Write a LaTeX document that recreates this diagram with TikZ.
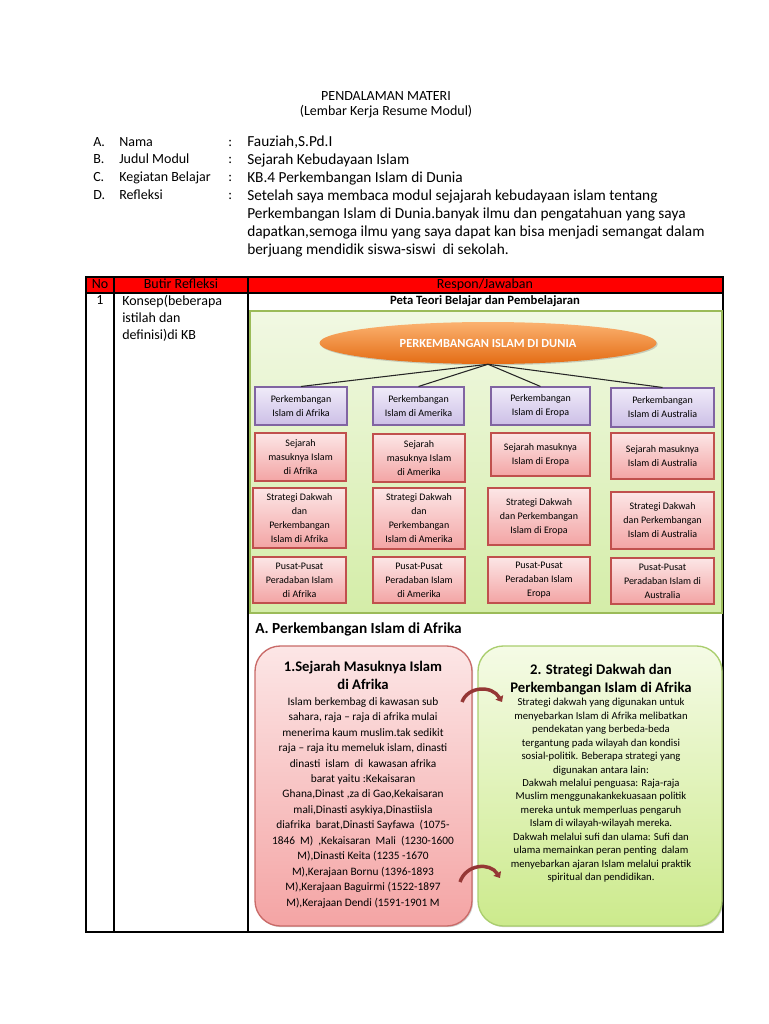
\documentclass[tikz,border=0pt]{standalone}
\usepackage{fontspec}
\setmainfont{Carlito}
\usetikzlibrary{shapes.geometric,shadows,arrows.meta}
\definecolor{hdrred}{RGB}{255,0,0}
\definecolor{pnlborder}{RGB}{155,187,89}
\definecolor{pnltop}{RGB}{241,248,227}
\definecolor{pnlbot}{RGB}{212,237,168}
\definecolor{elltop}{RGB}{251,178,112}
\definecolor{ellbot}{RGB}{228,108,20}
\definecolor{purpdraw}{RGB}{128,100,162}
\definecolor{purptop}{RGB}{240,235,249}
\definecolor{purpbot}{RGB}{204,191,230}
\definecolor{reddraw}{RGB}{192,80,77}
\definecolor{redtop}{RGB}{252,230,230}
\definecolor{redbot}{RGB}{243,164,164}
\definecolor{bigredtop}{RGB}{252,230,230}
\definecolor{bigredbot}{RGB}{244,164,164}
\definecolor{biggrtop}{RGB}{245,251,230}
\definecolor{biggrbot}{RGB}{204,234,140}
\definecolor{biggrdraw}{RGB}{170,206,110}
\definecolor{arrred}{RGB}{149,55,53}
\newcommand\mkbox[7]{%
  \pgfmathsetmacro\bxw{(#4-#2)*0.75}%
  \pgfmathsetmacro\bxh{(#5-#3)*0.75}%
  \pgfmathsetmacro\bxx{(#2+#4)/2}%
  \pgfmathsetmacro\bxy{(#3+#5)/2}%
  \node[#6, minimum width=\bxw pt, minimum height=\bxh pt] (#1) at (\bxx,\bxy) {#7};%
}
\begin{document}
\begin{tikzpicture}[x=0.75pt,y=-0.75pt,
  every node/.style={inner sep=0pt},
  titlef/.style={font=\fontsize{10.5}{13}\selectfont, anchor=mid},
  lblf/.style={font=\fontsize{10.5}{13}\selectfont, anchor=mid west},
  valf/.style={font=\fontsize{11.5}{13.5}\selectfont, anchor=mid west},
  tblf/.style={font=\fontsize{10.5}{13}\selectfont},
  tbl/.style={draw=black, line width=0.8pt},
  shad/.style={drop shadow={shadow xshift=0.9pt, shadow yshift=-0.9pt, opacity=0.35}},
  pbox/.style={draw=purpdraw, line width=0.8pt, top color=purptop, bottom color=purpbot,
     align=center, font=\fontsize{7.5}{10.5}\selectfont, shad},
  rbox/.style={draw=reddraw, line width=0.8pt, top color=redtop, bottom color=redbot,
     align=center, font=\fontsize{7.5}{10.5}\selectfont, shad},
  conn/.style={draw=black!85, line width=0.8pt},
  bigred/.style={draw=reddraw!85, line width=1pt, rounded corners=19pt,
     top color=bigredtop, bottom color=bigredbot, shad},
  biggreen/.style={draw=biggrdraw, line width=1pt, rounded corners=19pt,
     top color=biggrtop, bottom color=biggrbot, shad},
  arrow/.style={draw=arrred, line width=2.6pt, -{Triangle[length=4pt,width=6.5pt]}}
]
\useasboundingbox (0,0) rectangle (768,1024);
\fill[white] (0,0) rectangle (768,1024);

% title
\node[titlef] (t1) at (386,97) {PENDALAMAN MATERI};
\node[titlef] (t2) at (386,112) {(Lembar Kerja Resume Modul)};

% identity list
\node[lblf] (la) at (93,143) {A.};
\node[lblf] (lb) at (93,160) {B.};
\node[lblf] (lc) at (93,178) {C.};
\node[lblf] (ld) at (93,196) {D.};
\node[lblf] (na) at (119,143) {Nama};
\node[lblf] (nb) at (119,160) {Judul Modul};
\node[lblf] (nc) at (119,178) {Kegiatan Belajar};
\node[lblf] (nd) at (119,196) {Refleksi};
\node[lblf] (ca) at (228,143) {:};
\node[lblf] (cb) at (228,160) {:};
\node[lblf] (cc) at (228,178) {:};
\node[lblf] (cd) at (228,196) {:};
\node[valf] (va) at (247,143) {Fauziah,S.Pd.I};
\node[valf] (vb) at (247,161) {Sejarah Kebudayaan Islam};
\node[valf] (vc) at (247,179) {KB.4 Perkembangan Islam di Dunia};
\node[font=\fontsize{11.5}{13.5}\selectfont, align=left, anchor=north west] (vd) at (247,190) {Setelah saya membaca modul sejajarah kebudayaan islam tentang\\Perkembangan Islam di Dunia.banyak ilmu dan pengatahuan yang saya\\dapatkan,semoga ilmu yang saya dapat kan bisa menjadi semangat dalam\\berjuang mendidik siswa-siswi\ \ di sekolah.};

% table
\fill[hdrred] (86,277) rectangle (723,293);
\draw[tbl] (86,277) rectangle (723,932);
\draw[tbl] (86,293) -- (723,293);
\draw[tbl] (114,277) -- (114,932);
\draw[tbl] (248,277) -- (248,932);
\node[tblf, anchor=mid] (hno) at (100,285) {No};
\node[tblf, anchor=mid] (hbr) at (181,285) {Butir Refleksi};
\node[tblf, anchor=mid] (hrj) at (485,285) {Respon/Jawaban};
\node[tblf, anchor=mid] (r1) at (100,301) {1};
\node[tblf, align=left, anchor=north west] (kons) at (122,294.5) {Konsep(beberapa\\istilah dan\\definisi)di KB};
\node[font=\bfseries\fontsize{9.5}{12}\selectfont, anchor=mid] (peta) at (485,301) {Peta Teori Belajar dan Pembelajaran};

% concept map panel
\path[draw=pnlborder, line width=1.1pt, top color=pnltop, bottom color=pnlbot] (250,311) rectangle (722,613);
\node[ellipse, top color=elltop, bottom color=ellbot, minimum width=252.75pt, minimum height=31.5pt,
  shad, text=white, font=\bfseries\fontsize{9.3}{11}\selectfont] (ell) at (488,343) {PERKEMBANGAN ISLAM DI DUNIA};

\mkbox{p1}{255}{387}{347}{425}{pbox}{Perkembangan\\Islam di Afrika}
\mkbox{p2}{373}{387}{464}{425}{pbox}{Perkembangan\\Islam di Amerika}
\mkbox{p3}{491}{387}{590}{425}{pbox}{Perkembangan\\Islam di Eropa}
\mkbox{p4}{611}{388}{714}{427}{pbox}{Perkembangan\\Islam di Australia}

\mkbox{s1}{255}{433}{346}{481}{rbox}{Sejarah\\masuknya Islam\\di Afrika}
\mkbox{s2}{373}{434}{465}{482}{rbox}{Sejarah\\masuknya Islam\\di Amerika}
\mkbox{s3}{491}{433}{590}{476}{rbox}{Sejarah masuknya\\Islam di Eropa}
\mkbox{s4}{611}{433}{714}{479}{rbox}{Sejarah masuknya\\Islam di Australia}

\mkbox{st1}{253}{488}{346}{548}{rbox}{Strategi Dakwah\\dan\\Perkembangan\\Islam di Afrika}
\mkbox{st2}{373}{488}{465}{549}{rbox}{Strategi Dakwah\\dan\\Perkembangan\\Islam di Amerika}
\mkbox{st3}{488}{488}{590}{545}{rbox}{Strategi Dakwah\\dan Perkembangan\\Islam di Eropa}
\mkbox{st4}{611}{492}{714}{549}{rbox}{Strategi Dakwah\\dan Perkembangan\\Islam di Australia}

\mkbox{pu1}{253}{557}{346}{603}{rbox}{Pusat-Pusat\\Peradaban Islam\\di Afrika}
\mkbox{pu2}{373}{557}{465}{603}{rbox}{Pusat-Pusat\\Peradaban Islam\\di Amerika}
\mkbox{pu3}{488}{557}{590}{603}{rbox}{Pusat-Pusat\\Peradaban Islam\\Eropa}
\mkbox{pu4}{611}{558}{714}{604}{rbox}{Pusat-Pusat\\Peradaban Islam di\\Australia}

\draw[conn] (ell.south) -- (p1.north);
\draw[conn] (ell.south) -- (p2.north);
\draw[conn] (ell.south) -- (p3.north);
\draw[conn] (ell.south) -- (p4.north);

% section A
\node[font=\bfseries\fontsize{11.5}{14}\selectfont, anchor=mid west] (secA) at (255,630) {A. Perkembangan Islam di Afrika};

\mkbox{rb}{255}{646}{472}{926}{bigred}{}
\mkbox{gb}{478}{646}{722}{926}{biggreen}{}

\node[font=\bfseries\fontsize{11}{13.5}\selectfont, align=center, anchor=north] (rbt) at (363,661) {1.Sejarah Masuknya Islam\\di Afrika};
\node[font=\fontsize{8.5}{11.6}\selectfont, align=center, anchor=north] (rbb) at (363,697) {Islam berkembag di kawasan sub\\sahara, raja – raja di afrika mulai\\menerima kaum muslim.tak sedikit\\raja – raja itu memeluk islam, dinasti\\dinasti\ \ islam\ \ di\ \ kawasan afrika\\barat yaitu :Kekaisaran\\Ghana,Dinast ,za di Gao,Kekaisaran\\mali,Dinasti asykiya,Dinastiisla\\diafrika\ \ barat,Dinasti Sayfawa\ \ (1075-\\1846\ \ M)\ \ ,Kekaisaran\ \ Mali\ \ (1230-1600\\M),Dinasti Keita (1235 -1670\\M),Kerajaan Bornu (1396-1893\\M),Kerajaan Baguirmi (1522-1897\\M),Kerajaan Dendi (1591-1901 M};

\node[font=\bfseries\fontsize{11}{13.5}\selectfont, align=center, anchor=north] (gbt) at (601,664) {2. Strategi Dakwah dan\\Perkembangan Islam di Afrika};
\node[font=\fontsize{8}{10.1}\selectfont, align=center, anchor=north] (gbb) at (601,698) {Strategi dakwah yang digunakan untuk\\menyebarkan Islam di Afrika melibatkan\\pendekatan yang berbeda-beda\\tergantung pada wilayah dan kondisi\\sosial-politik. Beberapa strategi yang\\digunakan antara lain:\\Dakwah melalui penguasa: Raja-raja\\Muslim menggunakankekuasaan politik\\mereka untuk memperluas pengaruh\\Islam di wilayah-wilayah mereka.\\Dakwah melalui sufi dan ulama: Sufi dan\\ulama memainkan peran penting\ \ dalam\\menyebarkan ajaran Islam melalui praktik\\spiritual dan pendidikan.};

% curved arrows
\coordinate (a1s) at (462,702);
\coordinate (a1e) at (502,702);
\coordinate (a2s) at (460,882);
\coordinate (a2e) at (500,878);
\draw[arrow] (a1s) .. controls (468,686) and (492,685) .. (a1e);
\draw[arrow] (a2s) .. controls (466,864) and (490,862) .. (a2e);
\end{tikzpicture}
\end{document}
